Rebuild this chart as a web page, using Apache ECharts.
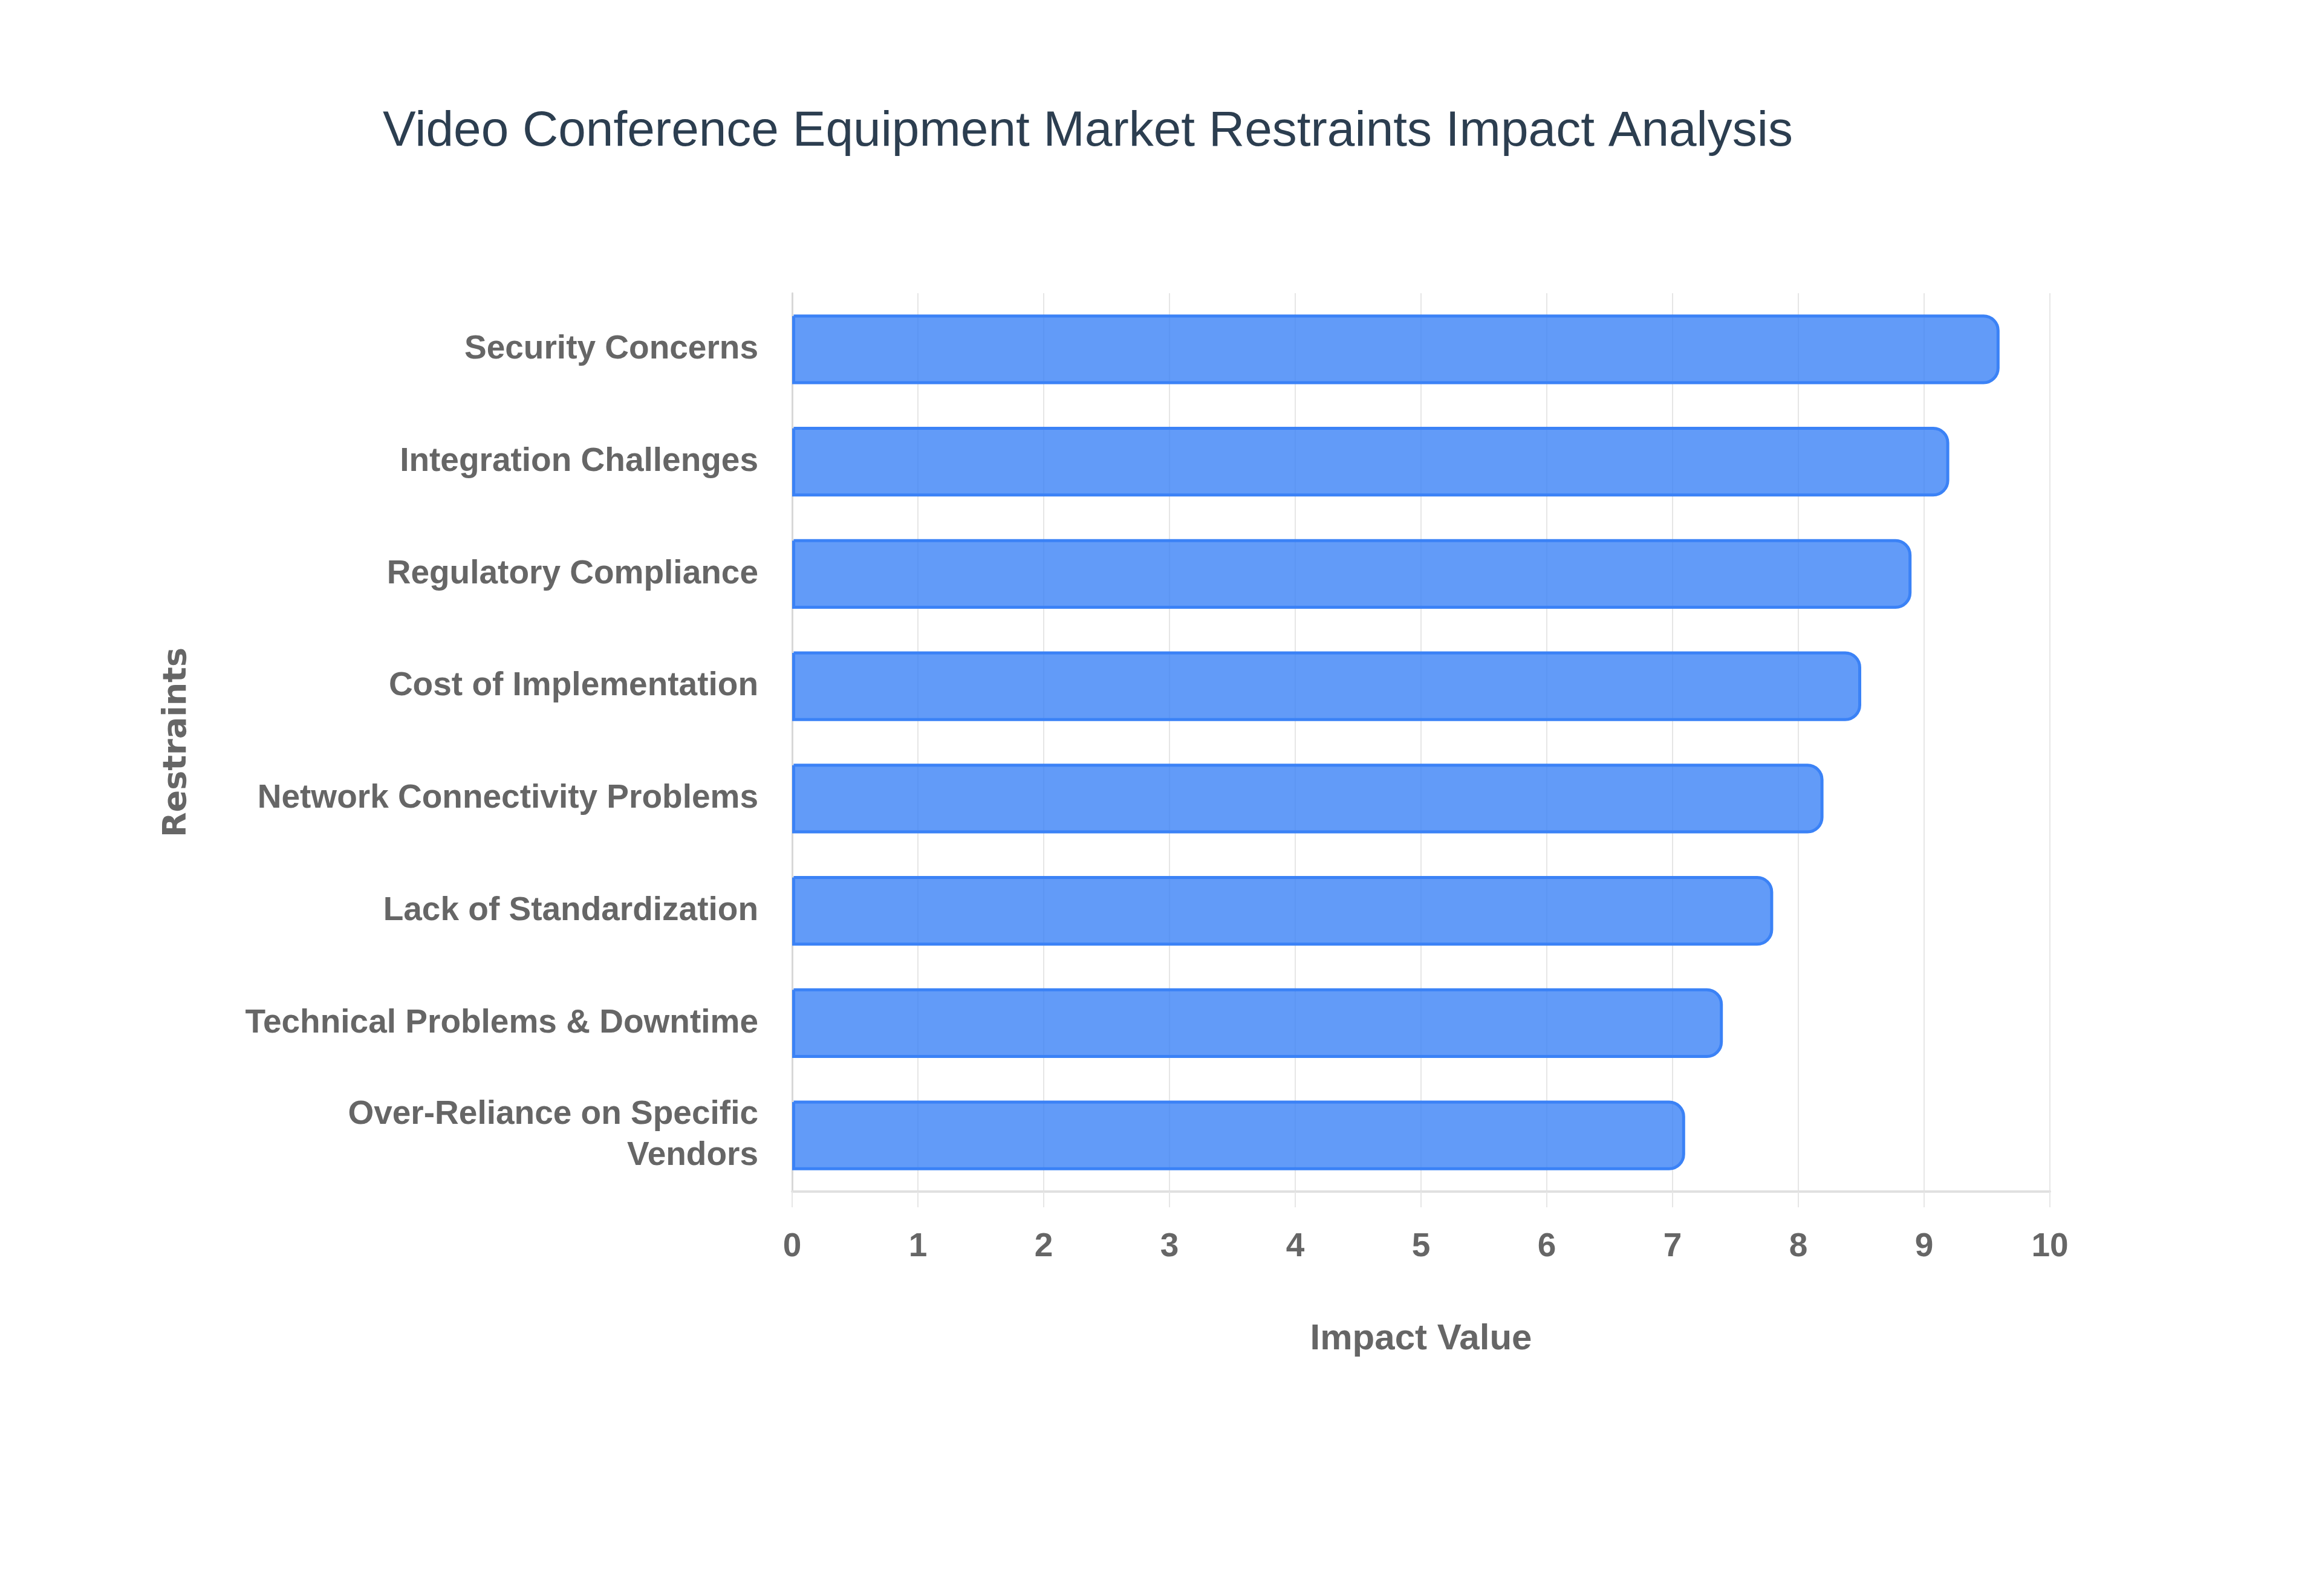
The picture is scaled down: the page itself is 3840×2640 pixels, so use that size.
<!DOCTYPE html>
<html>
<head>
<meta charset="utf-8">
<script src="https://cdn.jsdelivr.net/npm/echarts@6/dist/echarts.min.js"></script>
<style>
html,body{margin:0;padding:0;background:#fff;}
#chart{width:3840px;height:2640px;}
</style>
</head>
<body>
<div id="chart"></div>
<script>
const categories = [
  "Security Concerns",
  "Integration Challenges",
  "Regulatory Compliance",
  "Cost of Implementation",
  "Network Connectivity Problems",
  "Lack of Standardization",
  "Technical Problems & Downtime",
  "Over-Reliance on Specific\nVendors"
];
const impactValues = [9.6, 9.2, 8.9, 8.5, 8.2, 7.8, 7.4, 7.1];
const xTicks = [0, 1, 2, 3, 4, 5, 6, 7, 8, 9, 10];

const FONT = "'Liberation Sans', Arial, Helvetica, sans-serif";
const chart = echarts.init(document.getElementById('chart'));
chart.setOption({
  backgroundColor: '#ffffff',
  animation: false,
  title: {
    text: 'Video Conference Equipment Market Restraints Impact Analysis',
    left: 628,
    top: 172,
    textStyle: {
      fontFamily: FONT,
      fontSize: 82,
      fontWeight: 'normal',
      color: '#2C3E50'
    }
  },
  grid: {
    left: 1310,
    right: 450,
    top: 485,
    bottom: 669,
    containLabel: false
  },
  xAxis: {
    type: 'value',
    min: xTicks[0],
    max: xTicks[xTicks.length - 1],
    interval: 1,
    name: 'Impact Value',
    nameLocation: 'middle',
    nameGap: 214,
    nameTextStyle: {
      fontFamily: FONT,
      fontSize: 60,
      fontWeight: 'bold',
      color: '#666666'
    },
    axisLine: { show: true, lineStyle: { color: '#e0e0e0', width: 4 } },
    axisTick: { show: true, length: 26, lineStyle: { color: '#e6e6e6', width: 2 } },
    splitLine: { show: true, lineStyle: { color: '#e6e6e6', width: 2 } },
    axisLabel: {
      fontFamily: FONT,
      fontSize: 55,
      fontWeight: 'bold',
      color: '#666666',
      margin: 64
    }
  },
  yAxis: {
    type: 'category',
    data: categories,
    inverse: true,
    name: 'Restraints',
    nameLocation: 'middle',
    nameGap: 990,
    nameRotate: 90,
    nameTextStyle: {
      fontFamily: "'DejaVu Sans', Verdana, sans-serif",
      fontSize: 54,
      fontWeight: 'bold',
      color: '#666666'
    },
    axisLine: { show: true, lineStyle: { color: '#d8d8d8', width: 3 } },
    axisTick: { show: false },
    splitLine: { show: false },
    axisLabel: {
      fontFamily: FONT,
      fontSize: 55,
      fontWeight: 'bold',
      color: '#666666',
      margin: 56,
      lineHeight: 68,
      align: 'right'
    }
  },
  series: [{
    type: 'bar',
    data: impactValues,
    barWidth: '62%',
    itemStyle: {
      color: 'rgba(59,130,246,0.8)',
      borderColor: '#3B82F6',
      borderWidth: 5,
      borderRadius: [0, 24, 24, 0]
    }
  }]
});
</script>
</body>
</html>
